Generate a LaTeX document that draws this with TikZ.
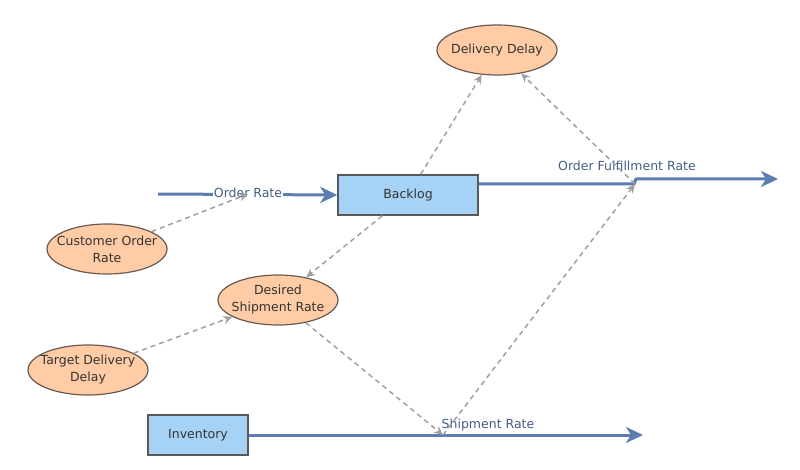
\documentclass[tikz,border=0pt]{standalone}
\usepackage{fontspec}
\setmainfont{DejaVu Sans}
\usetikzlibrary{shapes.geometric, arrows.meta}
\definecolor{flowblue}{RGB}{91,125,177}
\definecolor{stockblue}{RGB}{166,210,245}
\definecolor{auxpeach}{RGB}{255,204,165}
\definecolor{auxedge}{RGB}{105,90,80}
\definecolor{linkgray}{RGB}{160,160,160}
\tikzset{
x=1pt, y=-1pt, % pixel-like coordinates, y grows downwards
every node/.style={font=\fontsize{12.5}{17}\selectfont, text=black!80}, % text of every node
stock/.style={draw=black!65, line width=1.5pt, fill=stockblue, minimum width=140pt, minimum height=40pt}, % the boxes
aux/.style={ellipse, draw=auxedge, line width=1.2pt, fill=auxpeach, minimum width=120pt, minimum height=50pt, inner xsep=-14pt, inner ysep=-6pt, align=center}, % the ellipses
flow/.style={draw=flowblue, line width=3pt, -{Stealth[length=17pt, width=16pt, inset=5pt]}}, % thick blue pipes
flowlabel/.style={fill=white, text=flowblue!75!black, inner sep=1pt}, % names on the pipes
link/.style={draw=linkgray, line width=1.5pt, dash pattern=on 5pt off 4pt, -{Stealth[length=9pt, width=8pt]}}, % dashed links
}

\begin{document}
\begin{tikzpicture}
        \useasboundingbox (0,0) rectangle (800,470);

        % boxes and ellipses
        \node[stock] (backlog) at (408,195) {Backlog};
        \node[stock, minimum width=100pt] (inventory) at (198,435) {Inventory};
        \node[aux] (delay) at (497,50) {Delivery Delay};
        \node[aux] (custrate) at (107,249) {Customer Order\\Rate};
        \node[aux] (desired) at (278,300) {Desired\\Shipment Rate};
        \node[aux] (target) at (88,370) {Target Delivery\\Delay};

        % pipe ends and valves
        \coordinate (ordersrc) at (158,194);
        \coordinate (orderv) at (248,194);
        \coordinate (fulfilv) at (635,184);
        \coordinate (fulfilsink) at (778,179);
        \coordinate (shipv) at (443,435);
        \coordinate (shipsink) at (643,435);

        % pipes
        \draw[flow] (ordersrc) -- (backlog.west);
        \draw[flow, rounded corners=2pt] ([yshift=11pt]backlog.east) -- (fulfilv) |- (fulfilsink);
        \draw[flow] (inventory.east) -- (shipsink);

        \node[flowlabel] (orderlbl) at (248,193) {Order Rate};
        \node[flowlabel, fill=none] (fulfillbl) at (627,166) {Order Fulfillment Rate};
        \node[flowlabel] (shiplbl) at (488,425) {Shipment Rate};

        % dashed links
        \draw[link] (custrate) -- (orderv);
        \draw[link] (backlog) -- (delay);
        \draw[link] (fulfilv) -- (delay);
        \draw[link] (backlog) -- (desired);
        \draw[link] (target) -- (desired);
        \draw[link] (desired) -- (shipv);
        \draw[link] (shipv) -- (fulfilv);

\end{tikzpicture}
\end{document}
